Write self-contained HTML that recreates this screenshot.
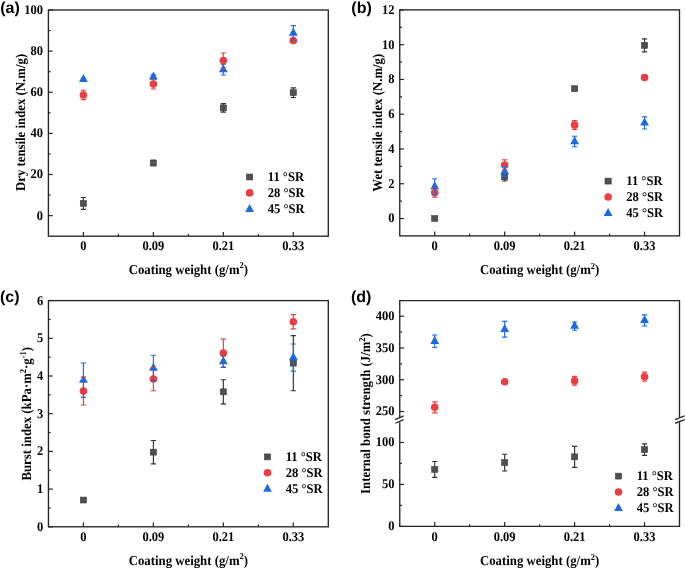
<!DOCTYPE html>
<html><head><meta charset="utf-8"><style>
html,body{margin:0;padding:0;background:#fff;}
body{width:685px;height:568px;overflow:hidden;}
svg{display:block;}
.t,.ti,.lg,.pl{text-rendering:geometricPrecision;}
.t{font-family:'Liberation Serif','Times New Roman',serif;font-weight:bold;font-size:12.5px;fill:#000;}
.ti{font-family:'Liberation Serif','Times New Roman',serif;font-weight:bold;font-size:12.8px;fill:#000;}
.lg{font-family:'Liberation Serif','Times New Roman',serif;font-weight:bold;font-size:12.6px;fill:#000;}
.pl{font-family:'Liberation Sans',Arial,sans-serif;font-weight:bold;font-size:16.0px;fill:#000;}
</style></head><body>
<svg width="685" height="568" viewBox="0 0 685 568">
<rect width="685" height="568" fill="#fff"/>
<rect x="48.4" y="10.0" width="279.90000000000003" height="226.2" fill="none" stroke="#252525" stroke-width="1.35"/>
<line x1="48.4" y1="215.64" x2="52.699999999999996" y2="215.64" stroke="#252525" stroke-width="1.2"/>
<text transform="translate(43.10,219.54) scale(1.0,1.06)" text-anchor="end" class="t">0</text>
<line x1="48.4" y1="174.51" x2="52.699999999999996" y2="174.51" stroke="#252525" stroke-width="1.2"/>
<text transform="translate(43.10,178.41) scale(1.0,1.06)" text-anchor="end" class="t">20</text>
<line x1="48.4" y1="133.38" x2="52.699999999999996" y2="133.38" stroke="#252525" stroke-width="1.2"/>
<text transform="translate(43.10,137.28) scale(1.0,1.06)" text-anchor="end" class="t">40</text>
<line x1="48.4" y1="92.25" x2="52.699999999999996" y2="92.25" stroke="#252525" stroke-width="1.2"/>
<text transform="translate(43.10,96.15) scale(1.0,1.06)" text-anchor="end" class="t">60</text>
<line x1="48.4" y1="51.13" x2="52.699999999999996" y2="51.13" stroke="#252525" stroke-width="1.2"/>
<text transform="translate(43.10,55.03) scale(1.0,1.06)" text-anchor="end" class="t">80</text>
<line x1="48.4" y1="10.00" x2="52.699999999999996" y2="10.00" stroke="#252525" stroke-width="1.2"/>
<text transform="translate(43.10,13.90) scale(1.0,1.06)" text-anchor="end" class="t">100</text>
<line x1="48.4" y1="195.07" x2="50.6" y2="195.07" stroke="#252525" stroke-width="1.2"/>
<line x1="48.4" y1="153.95" x2="50.6" y2="153.95" stroke="#252525" stroke-width="1.2"/>
<line x1="48.4" y1="112.82" x2="50.6" y2="112.82" stroke="#252525" stroke-width="1.2"/>
<line x1="48.4" y1="71.69" x2="50.6" y2="71.69" stroke="#252525" stroke-width="1.2"/>
<line x1="48.4" y1="30.56" x2="50.6" y2="30.56" stroke="#252525" stroke-width="1.2"/>
<line x1="83.39" y1="236.2" x2="83.39" y2="231.89999999999998" stroke="#252525" stroke-width="1.2"/>
<text transform="translate(83.39,250.30) scale(1.0,1.06)" text-anchor="middle" class="t">0</text>
<line x1="153.36" y1="236.2" x2="153.36" y2="231.89999999999998" stroke="#252525" stroke-width="1.2"/>
<text transform="translate(153.36,250.30) scale(1.0,1.06)" text-anchor="middle" class="t">0.09</text>
<line x1="223.34" y1="236.2" x2="223.34" y2="231.89999999999998" stroke="#252525" stroke-width="1.2"/>
<text transform="translate(223.34,250.30) scale(1.0,1.06)" text-anchor="middle" class="t">0.21</text>
<line x1="293.31" y1="236.2" x2="293.31" y2="231.89999999999998" stroke="#252525" stroke-width="1.2"/>
<text transform="translate(293.31,250.30) scale(1.0,1.06)" text-anchor="middle" class="t">0.33</text>
<line x1="118.38" y1="236.2" x2="118.38" y2="234.0" stroke="#252525" stroke-width="1.2"/>
<line x1="188.35" y1="236.2" x2="188.35" y2="234.0" stroke="#252525" stroke-width="1.2"/>
<line x1="258.32" y1="236.2" x2="258.32" y2="234.0" stroke="#252525" stroke-width="1.2"/>
<text transform="translate(188.35,273.60) scale(1.0,1.07)" text-anchor="middle" class="ti">Coating weight (g/m<tspan dy="-5" font-size="8.5">2</tspan><tspan dy="5">)</tspan></text>
<text transform="translate(24.70,122.45) rotate(-90) scale(1.0,1.07)" text-anchor="middle" class="ti">Dry tensile index (N.m/g)</text>
<path d="M83.39,209.34 V197.54 M80.79,209.34 H85.99 M80.79,197.54 H85.99" stroke="#333333" stroke-width="1.15" fill="none"/>
<path d="M153.36,165.67 V160.32 M150.76,165.67 H155.96 M150.76,160.32 H155.96" stroke="#333333" stroke-width="1.15" fill="none"/>
<path d="M223.34,112.14 V103.63 M220.74,112.14 H225.94 M220.74,103.63 H225.94" stroke="#333333" stroke-width="1.15" fill="none"/>
<path d="M293.31,97.52 V87.81 M290.71,97.52 H295.91 M290.71,87.81 H295.91" stroke="#333333" stroke-width="1.15" fill="none"/>
<rect x="80.24" y="200.44" width="6.3" height="6.0" fill="#505050" stroke="#3a3a3a" stroke-width="0.5"/>
<rect x="150.21" y="159.99" width="6.3" height="6.0" fill="#505050" stroke="#3a3a3a" stroke-width="0.5"/>
<rect x="220.19" y="104.88" width="6.3" height="6.0" fill="#505050" stroke="#3a3a3a" stroke-width="0.5"/>
<rect x="290.16" y="89.67" width="6.3" height="6.0" fill="#505050" stroke="#3a3a3a" stroke-width="0.5"/>
<path d="M83.39,73.97 L87.79,81.97 L78.99,81.97 Z" fill="#1b6ae0"/>
<path d="M153.36,71.50 L157.76,79.50 L148.96,79.50 Z" fill="#1b6ae0"/>
<path d="M223.34,64.30 L227.74,72.30 L218.94,72.30 Z" fill="#1b6ae0"/>
<path d="M293.31,27.70 L297.71,35.70 L288.91,35.70 Z" fill="#1b6ae0"/>
<circle cx="83.39" cy="94.93" r="3.8" fill="#ec3e41"/>
<circle cx="153.36" cy="84.03" r="3.8" fill="#ec3e41"/>
<circle cx="223.34" cy="60.59" r="3.8" fill="#ec3e41"/>
<circle cx="293.31" cy="40.43" r="3.8" fill="#ec3e41"/>
<path d="M83.39,99.58 V90.28 M80.79,99.58 H85.99 M80.79,90.28 H85.99" stroke="#ec3e41" stroke-width="1.15" fill="none"/>
<path d="M153.36,88.96 V79.09 M150.76,88.96 H155.96 M150.76,79.09 H155.96" stroke="#ec3e41" stroke-width="1.15" fill="none"/>
<path d="M223.34,68.13 V53.04 M220.74,68.13 H225.94 M220.74,53.04 H225.94" stroke="#ec3e41" stroke-width="1.15" fill="none"/>
<path d="M293.31,42.08 V38.79 M290.71,42.08 H295.91 M290.71,38.79 H295.91" stroke="#ec3e41" stroke-width="1.15" fill="none"/>
<path d="M83.39,80.33 V78.27 M80.79,80.33 H85.99 M80.79,78.27 H85.99" stroke="#1b6ae0" stroke-width="1.15" fill="none"/>
<path d="M153.36,78.89 V74.78 M150.76,78.89 H155.96 M150.76,74.78 H155.96" stroke="#1b6ae0" stroke-width="1.15" fill="none"/>
<path d="M223.34,74.98 V64.29 M220.74,74.98 H225.94 M220.74,64.29 H225.94" stroke="#1b6ae0" stroke-width="1.15" fill="none"/>
<path d="M293.31,40.43 V25.63 M290.71,40.43 H295.91 M290.71,25.63 H295.91" stroke="#1b6ae0" stroke-width="1.15" fill="none"/>
<rect x="246.45" y="174.00" width="6.3" height="6.0" fill="#505050" stroke="#3a3a3a" stroke-width="0.5"/>
<circle cx="249.60" cy="192.90" r="3.8" fill="#ec3e41"/>
<path d="M249.60,203.90 L254.00,211.90 L245.20,211.90 Z" fill="#1b6ae0"/>
<text transform="translate(267.80,180.80) scale(1.0,1.05)" text-anchor="start" class="lg">11 °SR</text>
<text transform="translate(267.80,196.70) scale(1.0,1.05)" text-anchor="start" class="lg">28 °SR</text>
<text transform="translate(267.80,212.60) scale(1.0,1.05)" text-anchor="start" class="lg">45 °SR</text>
<text transform="translate(0.20,12.80)" text-anchor="start" class="pl">(a)</text>
<rect x="399.75" y="9.9" width="279.75" height="226.0" fill="none" stroke="#252525" stroke-width="1.35"/>
<line x1="399.75" y1="218.52" x2="404.05" y2="218.52" stroke="#252525" stroke-width="1.2"/>
<text transform="translate(394.45,222.42) scale(1.0,1.06)" text-anchor="end" class="t">0</text>
<line x1="399.75" y1="183.75" x2="404.05" y2="183.75" stroke="#252525" stroke-width="1.2"/>
<text transform="translate(394.45,187.65) scale(1.0,1.06)" text-anchor="end" class="t">2</text>
<line x1="399.75" y1="148.98" x2="404.05" y2="148.98" stroke="#252525" stroke-width="1.2"/>
<text transform="translate(394.45,152.88) scale(1.0,1.06)" text-anchor="end" class="t">4</text>
<line x1="399.75" y1="114.21" x2="404.05" y2="114.21" stroke="#252525" stroke-width="1.2"/>
<text transform="translate(394.45,118.11) scale(1.0,1.06)" text-anchor="end" class="t">6</text>
<line x1="399.75" y1="79.44" x2="404.05" y2="79.44" stroke="#252525" stroke-width="1.2"/>
<text transform="translate(394.45,83.34) scale(1.0,1.06)" text-anchor="end" class="t">8</text>
<line x1="399.75" y1="44.67" x2="404.05" y2="44.67" stroke="#252525" stroke-width="1.2"/>
<text transform="translate(394.45,48.57) scale(1.0,1.06)" text-anchor="end" class="t">10</text>
<line x1="399.75" y1="9.90" x2="404.05" y2="9.90" stroke="#252525" stroke-width="1.2"/>
<text transform="translate(394.45,13.80) scale(1.0,1.06)" text-anchor="end" class="t">12</text>
<line x1="399.75" y1="201.13" x2="401.95" y2="201.13" stroke="#252525" stroke-width="1.2"/>
<line x1="399.75" y1="166.36" x2="401.95" y2="166.36" stroke="#252525" stroke-width="1.2"/>
<line x1="399.75" y1="131.59" x2="401.95" y2="131.59" stroke="#252525" stroke-width="1.2"/>
<line x1="399.75" y1="96.82" x2="401.95" y2="96.82" stroke="#252525" stroke-width="1.2"/>
<line x1="399.75" y1="62.05" x2="401.95" y2="62.05" stroke="#252525" stroke-width="1.2"/>
<line x1="399.75" y1="27.28" x2="401.95" y2="27.28" stroke="#252525" stroke-width="1.2"/>
<line x1="434.72" y1="235.9" x2="434.72" y2="231.6" stroke="#252525" stroke-width="1.2"/>
<text transform="translate(434.72,250.00) scale(1.0,1.06)" text-anchor="middle" class="t">0</text>
<line x1="504.66" y1="235.9" x2="504.66" y2="231.6" stroke="#252525" stroke-width="1.2"/>
<text transform="translate(504.66,250.00) scale(1.0,1.06)" text-anchor="middle" class="t">0.09</text>
<line x1="574.59" y1="235.9" x2="574.59" y2="231.6" stroke="#252525" stroke-width="1.2"/>
<text transform="translate(574.59,250.00) scale(1.0,1.06)" text-anchor="middle" class="t">0.21</text>
<line x1="644.53" y1="235.9" x2="644.53" y2="231.6" stroke="#252525" stroke-width="1.2"/>
<text transform="translate(644.53,250.00) scale(1.0,1.06)" text-anchor="middle" class="t">0.33</text>
<line x1="469.69" y1="235.9" x2="469.69" y2="233.70000000000002" stroke="#252525" stroke-width="1.2"/>
<line x1="539.62" y1="235.9" x2="539.62" y2="233.70000000000002" stroke="#252525" stroke-width="1.2"/>
<line x1="609.56" y1="235.9" x2="609.56" y2="233.70000000000002" stroke="#252525" stroke-width="1.2"/>
<text transform="translate(539.62,274.40) scale(1.0,1.07)" text-anchor="middle" class="ti">Coating weight (g/m<tspan dy="-5" font-size="8.5">2</tspan><tspan dy="5">)</tspan></text>
<text transform="translate(382.20,122.70) rotate(-90) scale(1.0,1.07)" text-anchor="middle" class="ti">Wet tensile index (N.m/g)</text>
<path d="M504.66,180.96 V172.62 M502.06,180.96 H507.26 M502.06,172.62 H507.26" stroke="#333333" stroke-width="1.15" fill="none"/>
<path d="M574.59,89.52 V87.78 M571.99,89.52 H577.19 M571.99,87.78 H577.19" stroke="#333333" stroke-width="1.15" fill="none"/>
<path d="M644.53,51.80 V38.93 M641.93,51.80 H647.13 M641.93,38.93 H647.13" stroke="#333333" stroke-width="1.15" fill="none"/>
<rect x="431.57" y="215.52" width="6.3" height="6.0" fill="#505050" stroke="#3a3a3a" stroke-width="0.5"/>
<rect x="501.51" y="173.79" width="6.3" height="6.0" fill="#505050" stroke="#3a3a3a" stroke-width="0.5"/>
<rect x="571.44" y="85.65" width="6.3" height="6.0" fill="#505050" stroke="#3a3a3a" stroke-width="0.5"/>
<rect x="641.38" y="42.36" width="6.3" height="6.0" fill="#505050" stroke="#3a3a3a" stroke-width="0.5"/>
<path d="M434.72,181.37 L439.12,189.37 L430.32,189.37 Z" fill="#1b6ae0"/>
<path d="M504.66,166.24 L509.06,174.24 L500.26,174.24 Z" fill="#1b6ae0"/>
<path d="M574.59,136.17 L578.99,144.17 L570.19,144.17 Z" fill="#1b6ae0"/>
<path d="M644.53,117.57 L648.93,125.57 L640.13,125.57 Z" fill="#1b6ae0"/>
<circle cx="434.72" cy="192.44" r="3.8" fill="#ec3e41"/>
<circle cx="504.66" cy="164.97" r="3.8" fill="#ec3e41"/>
<circle cx="574.59" cy="124.99" r="3.8" fill="#ec3e41"/>
<circle cx="644.53" cy="77.53" r="3.8" fill="#ec3e41"/>
<path d="M434.72,197.13 V187.74 M432.12,197.13 H437.32 M432.12,187.74 H437.32" stroke="#ec3e41" stroke-width="1.15" fill="none"/>
<path d="M504.66,170.19 V159.76 M502.06,170.19 H507.26 M502.06,159.76 H507.26" stroke="#ec3e41" stroke-width="1.15" fill="none"/>
<path d="M574.59,129.33 V120.64 M571.99,129.33 H577.19 M571.99,120.64 H577.19" stroke="#ec3e41" stroke-width="1.15" fill="none"/>
<path d="M644.53,79.61 V75.44 M641.93,79.61 H647.13 M641.93,75.44 H647.13" stroke="#ec3e41" stroke-width="1.15" fill="none"/>
<path d="M434.72,194.70 V178.70 M432.12,194.70 H437.32 M432.12,178.70 H437.32" stroke="#1b6ae0" stroke-width="1.15" fill="none"/>
<path d="M504.66,176.79 V166.36 M502.06,176.79 H507.26 M502.06,166.36 H507.26" stroke="#1b6ae0" stroke-width="1.15" fill="none"/>
<path d="M574.59,146.72 V136.29 M571.99,146.72 H577.19 M571.99,136.29 H577.19" stroke="#1b6ae0" stroke-width="1.15" fill="none"/>
<path d="M644.53,128.98 V116.82 M641.93,128.98 H647.13 M641.93,116.82 H647.13" stroke="#1b6ae0" stroke-width="1.15" fill="none"/>
<rect x="604.95" y="178.10" width="6.3" height="6.0" fill="#505050" stroke="#3a3a3a" stroke-width="0.5"/>
<circle cx="608.10" cy="197.00" r="3.8" fill="#ec3e41"/>
<path d="M608.10,208.00 L612.50,216.00 L603.70,216.00 Z" fill="#1b6ae0"/>
<text transform="translate(626.30,184.90) scale(1.0,1.05)" text-anchor="start" class="lg">11 °SR</text>
<text transform="translate(626.30,200.80) scale(1.0,1.05)" text-anchor="start" class="lg">28 °SR</text>
<text transform="translate(626.30,216.70) scale(1.0,1.05)" text-anchor="start" class="lg">45 °SR</text>
<text transform="translate(351.30,12.90)" text-anchor="start" class="pl">(b)</text>
<rect x="48.45" y="300.6" width="279.85" height="226.19999999999993" fill="none" stroke="#252525" stroke-width="1.35"/>
<line x1="48.45" y1="526.80" x2="52.75" y2="526.80" stroke="#252525" stroke-width="1.2"/>
<text transform="translate(43.15,530.70) scale(1.0,1.06)" text-anchor="end" class="t">0</text>
<line x1="48.45" y1="489.10" x2="52.75" y2="489.10" stroke="#252525" stroke-width="1.2"/>
<text transform="translate(43.15,493.00) scale(1.0,1.06)" text-anchor="end" class="t">1</text>
<line x1="48.45" y1="451.40" x2="52.75" y2="451.40" stroke="#252525" stroke-width="1.2"/>
<text transform="translate(43.15,455.30) scale(1.0,1.06)" text-anchor="end" class="t">2</text>
<line x1="48.45" y1="413.70" x2="52.75" y2="413.70" stroke="#252525" stroke-width="1.2"/>
<text transform="translate(43.15,417.60) scale(1.0,1.06)" text-anchor="end" class="t">3</text>
<line x1="48.45" y1="376.00" x2="52.75" y2="376.00" stroke="#252525" stroke-width="1.2"/>
<text transform="translate(43.15,379.90) scale(1.0,1.06)" text-anchor="end" class="t">4</text>
<line x1="48.45" y1="338.30" x2="52.75" y2="338.30" stroke="#252525" stroke-width="1.2"/>
<text transform="translate(43.15,342.20) scale(1.0,1.06)" text-anchor="end" class="t">5</text>
<line x1="48.45" y1="300.60" x2="52.75" y2="300.60" stroke="#252525" stroke-width="1.2"/>
<text transform="translate(43.15,304.50) scale(1.0,1.06)" text-anchor="end" class="t">6</text>
<line x1="48.45" y1="507.95" x2="50.650000000000006" y2="507.95" stroke="#252525" stroke-width="1.2"/>
<line x1="48.45" y1="470.25" x2="50.650000000000006" y2="470.25" stroke="#252525" stroke-width="1.2"/>
<line x1="48.45" y1="432.55" x2="50.650000000000006" y2="432.55" stroke="#252525" stroke-width="1.2"/>
<line x1="48.45" y1="394.85" x2="50.650000000000006" y2="394.85" stroke="#252525" stroke-width="1.2"/>
<line x1="48.45" y1="357.15" x2="50.650000000000006" y2="357.15" stroke="#252525" stroke-width="1.2"/>
<line x1="48.45" y1="319.45" x2="50.650000000000006" y2="319.45" stroke="#252525" stroke-width="1.2"/>
<line x1="83.43" y1="526.8" x2="83.43" y2="522.5" stroke="#252525" stroke-width="1.2"/>
<text transform="translate(83.43,540.90) scale(1.0,1.06)" text-anchor="middle" class="t">0</text>
<line x1="153.39" y1="526.8" x2="153.39" y2="522.5" stroke="#252525" stroke-width="1.2"/>
<text transform="translate(153.39,540.90) scale(1.0,1.06)" text-anchor="middle" class="t">0.09</text>
<line x1="223.36" y1="526.8" x2="223.36" y2="522.5" stroke="#252525" stroke-width="1.2"/>
<text transform="translate(223.36,540.90) scale(1.0,1.06)" text-anchor="middle" class="t">0.21</text>
<line x1="293.32" y1="526.8" x2="293.32" y2="522.5" stroke="#252525" stroke-width="1.2"/>
<text transform="translate(293.32,540.90) scale(1.0,1.06)" text-anchor="middle" class="t">0.33</text>
<line x1="118.41" y1="526.8" x2="118.41" y2="524.5999999999999" stroke="#252525" stroke-width="1.2"/>
<line x1="188.38" y1="526.8" x2="188.38" y2="524.5999999999999" stroke="#252525" stroke-width="1.2"/>
<line x1="258.34" y1="526.8" x2="258.34" y2="524.5999999999999" stroke="#252525" stroke-width="1.2"/>
<text transform="translate(188.38,564.80) scale(1.0,1.07)" text-anchor="middle" class="ti">Coating weight (g/m<tspan dy="-5" font-size="8.5">2</tspan><tspan dy="5">)</tspan></text>
<text transform="translate(31.40,413.70) rotate(-90) scale(1.0,1.07)" text-anchor="middle" class="ti">Burst index (kPa·m<tspan dy="-5" font-size="8.5">2</tspan><tspan dy="5">·g</tspan><tspan dy="-5" font-size="8.5">-1</tspan><tspan dy="5">)</tspan></text>
<path d="M83.43,501.16 V498.90 M80.83,501.16 H86.03 M80.83,498.90 H86.03" stroke="#333333" stroke-width="1.15" fill="none"/>
<path d="M153.39,463.84 V440.47 M150.79,463.84 H155.99 M150.79,440.47 H155.99" stroke="#333333" stroke-width="1.15" fill="none"/>
<path d="M223.36,403.90 V379.77 M220.76,403.90 H225.96 M220.76,379.77 H225.96" stroke="#333333" stroke-width="1.15" fill="none"/>
<path d="M293.32,390.70 V335.66 M290.72,390.70 H295.92 M290.72,335.66 H295.92" stroke="#333333" stroke-width="1.15" fill="none"/>
<rect x="80.28" y="497.03" width="6.3" height="6.0" fill="#505050" stroke="#3a3a3a" stroke-width="0.5"/>
<rect x="150.24" y="449.15" width="6.3" height="6.0" fill="#505050" stroke="#3a3a3a" stroke-width="0.5"/>
<rect x="220.21" y="388.83" width="6.3" height="6.0" fill="#505050" stroke="#3a3a3a" stroke-width="0.5"/>
<rect x="290.17" y="360.18" width="6.3" height="6.0" fill="#505050" stroke="#3a3a3a" stroke-width="0.5"/>
<path d="M83.43,374.81 L87.83,382.81 L79.03,382.81 Z" fill="#1b6ae0"/>
<path d="M153.39,362.75 L157.79,370.75 L148.99,370.75 Z" fill="#1b6ae0"/>
<path d="M223.36,356.34 L227.76,364.34 L218.96,364.34 Z" fill="#1b6ae0"/>
<path d="M293.32,352.19 L297.72,360.19 L288.92,360.19 Z" fill="#1b6ae0"/>
<circle cx="83.43" cy="391.08" r="3.8" fill="#ec3e41"/>
<circle cx="153.39" cy="379.02" r="3.8" fill="#ec3e41"/>
<circle cx="223.36" cy="353.00" r="3.8" fill="#ec3e41"/>
<circle cx="293.32" cy="321.71" r="3.8" fill="#ec3e41"/>
<path d="M83.43,405.03 V377.13 M80.83,405.03 H86.03 M80.83,377.13 H86.03" stroke="#ec3e41" stroke-width="1.15" fill="none"/>
<path d="M153.39,390.70 V367.33 M150.79,390.70 H155.99 M150.79,367.33 H155.99" stroke="#ec3e41" stroke-width="1.15" fill="none"/>
<path d="M223.36,366.95 V339.05 M220.76,366.95 H225.96 M220.76,339.05 H225.96" stroke="#ec3e41" stroke-width="1.15" fill="none"/>
<path d="M293.32,328.88 V314.55 M290.72,328.88 H295.92 M290.72,314.55 H295.92" stroke="#ec3e41" stroke-width="1.15" fill="none"/>
<path d="M83.43,397.30 V362.99 M80.83,397.30 H86.03 M80.83,362.99 H86.03" stroke="#1b6ae0" stroke-width="1.15" fill="none"/>
<path d="M153.39,380.90 V355.26 M150.79,380.90 H155.99 M150.79,355.26 H155.99" stroke="#1b6ae0" stroke-width="1.15" fill="none"/>
<path d="M223.36,367.33 V356.02 M220.76,367.33 H225.96 M220.76,356.02 H225.96" stroke="#1b6ae0" stroke-width="1.15" fill="none"/>
<path d="M293.32,371.10 V343.95 M290.72,371.10 H295.92 M290.72,343.95 H295.92" stroke="#1b6ae0" stroke-width="1.15" fill="none"/>
<rect x="264.35" y="453.90" width="6.3" height="6.0" fill="#505050" stroke="#3a3a3a" stroke-width="0.5"/>
<circle cx="267.50" cy="472.80" r="3.8" fill="#ec3e41"/>
<path d="M267.50,483.80 L271.90,491.80 L263.10,491.80 Z" fill="#1b6ae0"/>
<text transform="translate(285.70,460.70) scale(1.0,1.05)" text-anchor="start" class="lg">11 °SR</text>
<text transform="translate(285.70,476.60) scale(1.0,1.05)" text-anchor="start" class="lg">28 °SR</text>
<text transform="translate(285.70,492.50) scale(1.0,1.05)" text-anchor="start" class="lg">45 °SR</text>
<text transform="translate(0.00,301.50)" text-anchor="start" class="pl">(c)</text>
<path d="M399.75,417.0 V300.6 H679.5 V417.0 M399.75,422.20000000000005 V526.4 H679.5 V422.20000000000005" fill="none" stroke="#252525" stroke-width="1.35"/>
<line x1="395.30" y1="419.55" x2="403.70" y2="415.95" stroke="#252525" stroke-width="1.35"/>
<line x1="395.30" y1="423.25" x2="403.70" y2="419.65" stroke="#252525" stroke-width="1.35"/>
<line x1="675.10" y1="419.55" x2="684.60" y2="415.95" stroke="#252525" stroke-width="1.35"/>
<line x1="675.10" y1="423.25" x2="684.60" y2="419.65" stroke="#252525" stroke-width="1.35"/>
<line x1="399.75" y1="526.40" x2="404.05" y2="526.40" stroke="#252525" stroke-width="1.2"/>
<text transform="translate(394.45,530.30) scale(1.0,1.06)" text-anchor="end" class="t">0</text>
<line x1="399.75" y1="484.44" x2="404.05" y2="484.44" stroke="#252525" stroke-width="1.2"/>
<text transform="translate(394.45,488.34) scale(1.0,1.06)" text-anchor="end" class="t">50</text>
<line x1="399.75" y1="442.48" x2="404.05" y2="442.48" stroke="#252525" stroke-width="1.2"/>
<text transform="translate(394.45,446.38) scale(1.0,1.06)" text-anchor="end" class="t">100</text>
<line x1="399.75" y1="411.50" x2="404.05" y2="411.50" stroke="#252525" stroke-width="1.2"/>
<text transform="translate(394.45,415.39) scale(1.0,1.06)" text-anchor="end" class="t">250</text>
<line x1="399.75" y1="379.73" x2="404.05" y2="379.73" stroke="#252525" stroke-width="1.2"/>
<text transform="translate(394.45,383.63) scale(1.0,1.06)" text-anchor="end" class="t">300</text>
<line x1="399.75" y1="347.96" x2="404.05" y2="347.96" stroke="#252525" stroke-width="1.2"/>
<text transform="translate(394.45,351.86) scale(1.0,1.06)" text-anchor="end" class="t">350</text>
<line x1="399.75" y1="316.20" x2="404.05" y2="316.20" stroke="#252525" stroke-width="1.2"/>
<text transform="translate(394.45,320.10) scale(1.0,1.06)" text-anchor="end" class="t">400</text>
<line x1="399.75" y1="505.42" x2="401.95" y2="505.42" stroke="#252525" stroke-width="1.2"/>
<line x1="399.75" y1="463.46" x2="401.95" y2="463.46" stroke="#252525" stroke-width="1.2"/>
<line x1="399.75" y1="395.61" x2="401.95" y2="395.61" stroke="#252525" stroke-width="1.2"/>
<line x1="399.75" y1="363.85" x2="401.95" y2="363.85" stroke="#252525" stroke-width="1.2"/>
<line x1="399.75" y1="332.08" x2="401.95" y2="332.08" stroke="#252525" stroke-width="1.2"/>
<line x1="434.72" y1="526.4" x2="434.72" y2="522.1" stroke="#252525" stroke-width="1.2"/>
<text transform="translate(434.72,540.50) scale(1.0,1.06)" text-anchor="middle" class="t">0</text>
<line x1="504.66" y1="526.4" x2="504.66" y2="522.1" stroke="#252525" stroke-width="1.2"/>
<text transform="translate(504.66,540.50) scale(1.0,1.06)" text-anchor="middle" class="t">0.09</text>
<line x1="574.59" y1="526.4" x2="574.59" y2="522.1" stroke="#252525" stroke-width="1.2"/>
<text transform="translate(574.59,540.50) scale(1.0,1.06)" text-anchor="middle" class="t">0.21</text>
<line x1="644.53" y1="526.4" x2="644.53" y2="522.1" stroke="#252525" stroke-width="1.2"/>
<text transform="translate(644.53,540.50) scale(1.0,1.06)" text-anchor="middle" class="t">0.33</text>
<line x1="469.69" y1="526.4" x2="469.69" y2="524.1999999999999" stroke="#252525" stroke-width="1.2"/>
<line x1="539.62" y1="526.4" x2="539.62" y2="524.1999999999999" stroke="#252525" stroke-width="1.2"/>
<line x1="609.56" y1="526.4" x2="609.56" y2="524.1999999999999" stroke="#252525" stroke-width="1.2"/>
<text transform="translate(539.62,564.90) scale(1.0,1.07)" text-anchor="middle" class="ti">Coating weight (g/m<tspan dy="-5" font-size="8.5">2</tspan><tspan dy="5">)</tspan></text>
<text transform="translate(370.00,413.50) rotate(-90) scale(1.0,1.07)" text-anchor="middle" class="ti">Internal bond strength (J/m<tspan dy="-5" font-size="8.5">2</tspan><tspan dy="5">)</tspan></text>
<path d="M434.72,477.39 V461.45 M432.12,477.39 H437.32 M432.12,461.45 H437.32" stroke="#333333" stroke-width="1.15" fill="none"/>
<path d="M504.66,470.97 V454.27 M502.06,470.97 H507.26 M502.06,454.27 H507.26" stroke="#333333" stroke-width="1.15" fill="none"/>
<path d="M574.59,467.32 V446.34 M571.99,467.32 H577.19 M571.99,446.34 H577.19" stroke="#333333" stroke-width="1.15" fill="none"/>
<path d="M644.53,455.36 V443.86 M641.93,455.36 H647.13 M641.93,443.86 H647.13" stroke="#333333" stroke-width="1.15" fill="none"/>
<rect x="431.57" y="466.42" width="6.3" height="6.0" fill="#505050" stroke="#3a3a3a" stroke-width="0.5"/>
<rect x="501.51" y="459.62" width="6.3" height="6.0" fill="#505050" stroke="#3a3a3a" stroke-width="0.5"/>
<rect x="571.44" y="453.83" width="6.3" height="6.0" fill="#505050" stroke="#3a3a3a" stroke-width="0.5"/>
<rect x="641.38" y="446.61" width="6.3" height="6.0" fill="#505050" stroke="#3a3a3a" stroke-width="0.5"/>
<path d="M434.72,335.90 L439.12,343.90 L430.32,343.90 Z" fill="#1b6ae0"/>
<path d="M504.66,323.95 L509.06,331.95 L500.26,331.95 Z" fill="#1b6ae0"/>
<path d="M574.59,320.78 L578.99,328.78 L570.19,328.78 Z" fill="#1b6ae0"/>
<path d="M644.53,315.12 L648.93,323.12 L640.13,323.12 Z" fill="#1b6ae0"/>
<circle cx="434.72" cy="407.37" r="3.8" fill="#ec3e41"/>
<circle cx="504.66" cy="381.70" r="3.8" fill="#ec3e41"/>
<circle cx="574.59" cy="380.81" r="3.8" fill="#ec3e41"/>
<circle cx="644.53" cy="376.68" r="3.8" fill="#ec3e41"/>
<path d="M434.72,412.89 V401.84 M432.12,412.89 H437.32 M432.12,401.84 H437.32" stroke="#ec3e41" stroke-width="1.15" fill="none"/>
<path d="M504.66,382.33 V381.06 M502.06,382.33 H507.26 M502.06,381.06 H507.26" stroke="#ec3e41" stroke-width="1.15" fill="none"/>
<path d="M574.59,385.19 V376.43 M571.99,385.19 H577.19 M571.99,376.43 H577.19" stroke="#ec3e41" stroke-width="1.15" fill="none"/>
<path d="M644.53,381.25 V372.11 M641.93,381.25 H647.13 M641.93,372.11 H647.13" stroke="#ec3e41" stroke-width="1.15" fill="none"/>
<path d="M434.72,347.46 V335.00 M432.12,347.46 H437.32 M432.12,335.00 H437.32" stroke="#1b6ae0" stroke-width="1.15" fill="none"/>
<path d="M504.66,337.16 V321.41 M502.06,337.16 H507.26 M502.06,321.41 H507.26" stroke="#1b6ae0" stroke-width="1.15" fill="none"/>
<path d="M574.59,330.24 V321.98 M571.99,330.24 H577.19 M571.99,321.98 H577.19" stroke="#1b6ae0" stroke-width="1.15" fill="none"/>
<path d="M644.53,325.98 V314.93 M641.93,325.98 H647.13 M641.93,314.93 H647.13" stroke="#1b6ae0" stroke-width="1.15" fill="none"/>
<rect x="615.35" y="473.10" width="6.3" height="6.0" fill="#505050" stroke="#3a3a3a" stroke-width="0.5"/>
<circle cx="618.50" cy="492.00" r="3.8" fill="#ec3e41"/>
<path d="M618.50,503.00 L622.90,511.00 L614.10,511.00 Z" fill="#1b6ae0"/>
<text transform="translate(636.70,479.90) scale(1.0,1.05)" text-anchor="start" class="lg">11 °SR</text>
<text transform="translate(636.70,495.80) scale(1.0,1.05)" text-anchor="start" class="lg">28 °SR</text>
<text transform="translate(636.70,511.70) scale(1.0,1.05)" text-anchor="start" class="lg">45 °SR</text>
<text transform="translate(350.90,302.00)" text-anchor="start" class="pl">(d)</text>
</svg>
</body></html>
